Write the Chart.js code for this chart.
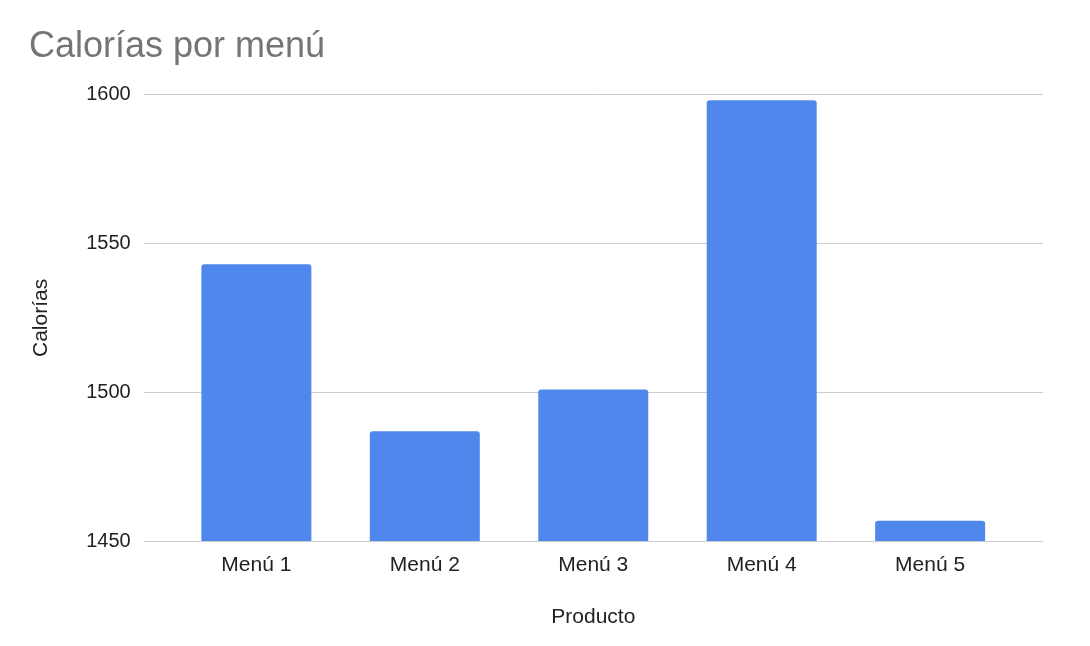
<!DOCTYPE html>
<html>
<head>
<meta charset="utf-8">
<title>Calorías por menú</title>
<script src="https://cdn.jsdelivr.net/npm/chart.js@4"></script>
<style>
  body { margin: 0; background: #fff; }
  #chart { display: block; }
</style>
</head>
<body>
<canvas id="chart" width="1090" height="646"></canvas>
<script>
const menus = ['Menú 1', 'Menú 2', 'Menú 3', 'Menú 4', 'Menú 5'];
const calorias = [1543, 1487, 1501, 1598, 1457];
const yTicks = [1450, 1500, 1550, 1600];

const FONT = "'Liberation Sans', Arial, sans-serif";

document.addEventListener("DOMContentLoaded", function() {
    const ctx = document.getElementById('chart').getContext('2d');
    new Chart(ctx, {
        type: 'bar',
        data: {
            datasets: [{
                label: 'Calorías',
                data: menus.map((m, i) => ({ x: i, y: calorias[i] })),
                backgroundColor: '#5087ec',
                borderRadius: 3,
                borderSkipped: 'start',
                base: yTicks[0],
                barPercentage: 0.653,
                categoryPercentage: 1
            }]
        },
        options: {
            responsive: false,
            animation: false,
            devicePixelRatio: 1,
            layout: { padding: { left: 29, right: 47, top: 25, bottom: 16 } },
            plugins: {
                legend: { display: false },
                tooltip: { enabled: false },
                title: {
                    display: true,
                    text: 'Calorías por menú',
                    align: 'start',
                    color: '#757575',
                    font: { family: FONT, size: 36, weight: 'normal' },
                    padding: { top: 0, bottom: 26 }
                }
            },
            scales: {
                x: {
                    type: 'linear',
                    offset: false,
                    min: -0.669,
                    max: 4.67,
                    afterBuildTicks: axis => {
                        axis.ticks = menus.map((m, i) => ({ value: i }));
                    },
                    grid: { display: false },
                    border: { display: false },
                    ticks: {
                        callback: v => menus[v] || '',
                        color: '#222',
                        padding: 3,
                        autoSkip: false,
                        maxRotation: 0,
                        font: { family: FONT, size: 21 }
                    },
                    title: {
                        display: true,
                        text: 'Producto',
                        color: '#222',
                        padding: { top: 24, bottom: 0 },
                        font: { family: FONT, size: 21 }
                    }
                },
                y: {
                    min: yTicks[0],
                    max: yTicks[yTicks.length - 1],
                    afterBuildTicks: axis => {
                        axis.ticks = yTicks.map(v => ({ value: v }));
                    },
                    grid: { color: '#cccccc', lineWidth: 1, drawTicks: false },
                    border: { display: false },
                    ticks: {
                        callback: v => String(v),
                        color: '#222',
                        padding: 13,
                        font: { family: FONT, size: 20 }
                    },
                    title: {
                        display: true,
                        text: 'Calorías',
                        color: '#222',
                        padding: { top: 0, bottom: 19 },
                        font: { family: FONT, size: 21 }
                    }
                }
            }
        }
    });
});
</script>
</body>
</html>
